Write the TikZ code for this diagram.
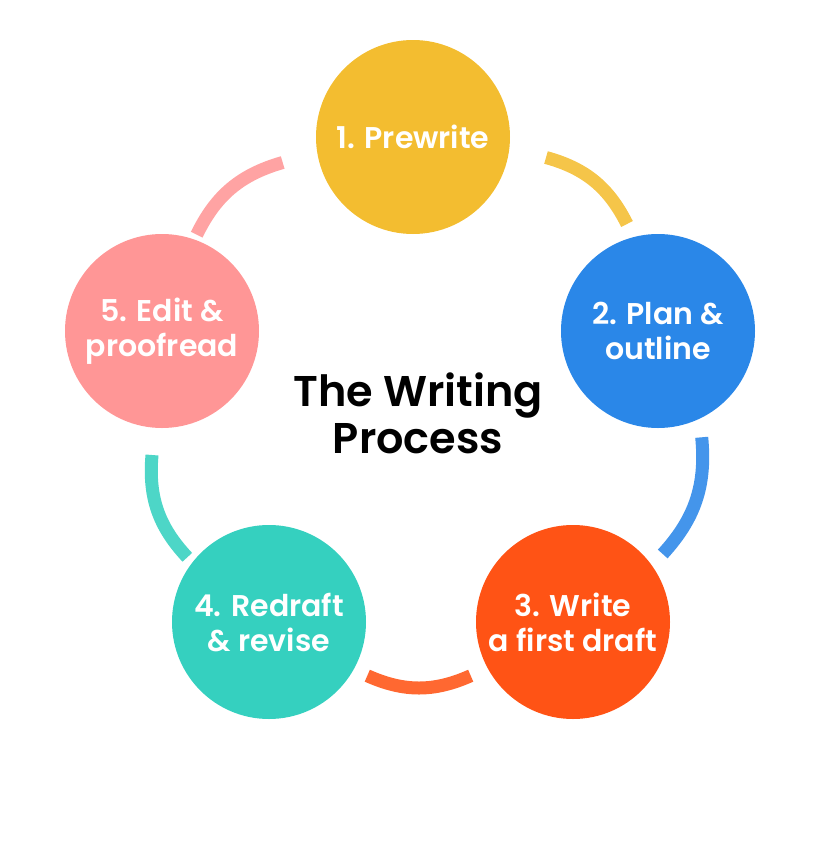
\documentclass[tikz,border=0pt]{standalone}
\usepackage{fontspec}
\setmainfont{Poppins}
\newfontfamily\stagefont{Poppins SemiBold}
\usetikzlibrary{positioning}
\definecolor{p-color}{HTML}{F3BD30}
\definecolor{o-color}{HTML}{2A87E8}
\definecolor{d-color}{HTML}{FF5315}
\definecolor{r-color}{HTML}{35D0BF}
\definecolor{e-color}{HTML}{FF9696}

\begin{document}
\begin{tikzpicture}[x=1pt, y=-1pt,
                every node/.append style={align=center},
                stage/.style={circle, minimum size=194pt, inner sep=0pt, text=white,
                              font=\stagefont\fontsize{30}{35}\selectfont},
                ring/.style={line width=13pt}]
               \useasboundingbox (0,0) rectangle (819,841);

               \node [stage, fill=p-color] (P) at (413,137) {1. Prewrite};
               \node [stage, fill=o-color] (O) at (658,331) {2. Plan \&\\outline};
               \node [stage, fill=d-color] (D) at (573,622) {3. Write\\a first draft};
               \node [stage, fill=r-color] (R) at (269,622) {4. Redraft\\\& revise};
               \node [stage, fill=e-color] (E) at (162,331) {5. Edit \&\\proofread};
               \node [font=\stagefont\fontsize{43}{47}\selectfont] (T) at (418,413) {The Writing\\Process};

               % arc ends between the stages
               \coordinate (P-out) at (546,157.5);
               \coordinate (O-in)  at (627,224);
               \coordinate (O-out) at (701.7,437.3);
               \coordinate (D-in)  at (662.7,554);
               \coordinate (D-out) at (470.7,675.7);
               \coordinate (R-in)  at (367.3,675.7);
               \coordinate (R-out) at (187.3,557.3);
               \coordinate (E-in)  at (152,455);
               \coordinate (E-out) at (196.7,234.7);
               \coordinate (P-in)  at (282.7,162.5);

               \draw[ring, p-color!88!white] (P-out) to[bend left=24] (O-in);
               \draw[ring, o-color!88!white] (O-out) to[bend left=24] (D-in);
               \draw[ring, d-color!88!white] (D-out) to[bend left=24] (R-in);
               \draw[ring, r-color!88!white] (R-out) to[bend left=24] (E-in);
               \draw[ring, e-color!88!white] (E-out) to[bend left=24] (P-in);
        \end{tikzpicture}
\end{document}
